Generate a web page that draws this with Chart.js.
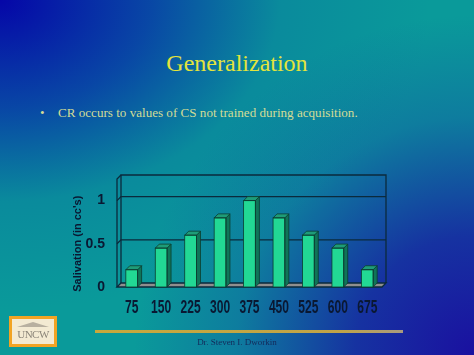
<!DOCTYPE html>
<html>
<head>
<meta charset="utf-8">
<script src="https://cdn.jsdelivr.net/npm/chart.js@4"></script>
<style>
  html, body { margin:0; padding:0; }
  body {
    width:474px; height:355px; overflow:hidden; position:relative;
    background:
      radial-gradient(ellipse 430px 310px at 0px 0px, rgba(5,6,168,1) 0%, rgba(8,50,168,0.8) 35%, rgba(10,110,160,0.35) 65%, rgba(10,150,155,0) 100%),
      radial-gradient(ellipse 340px 340px at 474px 355px, rgba(26,16,160,1) 0%, rgba(24,32,162,0.85) 35%, rgba(20,80,165,0.4) 70%, rgba(20,120,160,0) 100%),
      #0a9a9a;
  }
  #c { position:absolute; left:0; top:0; }
  .title { position:absolute; left:0; width:474px; top:51px; line-height:24px; text-align:center;
    font-family:"Liberation Serif","Times New Roman",serif; font-size:24px; color:#e4e43c; }
  .bullet { position:absolute; left:40px; top:106px; line-height:14px; font-family:"Liberation Serif",serif; font-size:13px; color:#d2dc96; }
  .btext { position:absolute; left:58px; top:106px; line-height:14px; font-family:"Liberation Serif",serif; font-size:13.1px; color:#d2dc96; white-space:nowrap; }
  .rule { position:absolute; left:95px; top:330px; width:308px; height:3px; background:linear-gradient(90deg,#c8a83c,#c0a448 80%,#a89a80); }
  .footer { position:absolute; left:0; width:474px; top:337px; text-align:center;
    font-family:"Liberation Serif",serif; font-size:9px; color:#142a5a; }
  .logo { position:absolute; left:9px; top:316px; width:42px; height:25px; border:3px solid #f2a424; background:#f3ead2; }
  .logo .roof { position:absolute; left:5px; top:3px; width:0; height:0; border-left:16px solid transparent; border-right:16px solid transparent; border-bottom:5px solid #b8b0a0; }
  .logo .txt { position:absolute; left:0; width:42px; top:9px; text-align:center; font-family:"Liberation Serif",serif; font-size:11px; color:#8a8478; letter-spacing:-0.5px; }
</style>
</head>
<body>
<div class="title">Generalization</div>
<div class="bullet">•</div>
<div class="btext">CR occurs to values of CS not trained during acquisition.</div>
<canvas id="c" width="474" height="355"></canvas>
<div class="rule"></div>
<div class="footer">Dr. Steven I. Dworkin</div>
<div class="logo"><div class="roof"></div><div class="txt">UNCW</div></div>
<script>
const categories = ['75','150','225','300','375','450','525','600','675'];
const salivation = [0.2, 0.45, 0.6, 0.8, 1.0, 0.8, 0.6, 0.45, 0.2];
const yTickValues = [0, 0.5, 1];
const yAxisTitle = "Salivation (in cc's)";

const DX = 4, DY = -4;
const lineColor = '#0b2a3c';
const labelColor = '#0a1832';

const box3d = {
  id: 'box3d',
  beforeDatasetsDraw(chart) {
    const ctx = chart.ctx, a = chart.chartArea, y = chart.scales.y;
    ctx.save();
    ctx.strokeStyle = lineColor;
    ctx.lineWidth = 1.3;
    // floor
    ctx.beginPath();
    ctx.moveTo(a.left, a.bottom);
    ctx.lineTo(a.right, a.bottom);
    ctx.lineTo(a.right + DX, a.bottom + DY);
    ctx.lineTo(a.left + DX, a.bottom + DY);
    ctx.closePath();
    ctx.fillStyle = '#8f8f8f';
    ctx.fill();
    ctx.stroke();
    // back wall outline
    ctx.beginPath();
    ctx.moveTo(a.left + DX, a.bottom + DY);
    ctx.lineTo(a.left + DX, a.top + DY);
    ctx.lineTo(a.right + DX, a.top + DY);
    ctx.lineTo(a.right + DX, a.bottom + DY);
    ctx.stroke();
    // left wall
    ctx.beginPath();
    ctx.moveTo(a.left, a.bottom);
    ctx.lineTo(a.left, a.top);
    ctx.lineTo(a.left + DX, a.top + DY);
    ctx.stroke();
    // gridlines
    yTickValues.forEach(v => {
      if (v === 0) return;
      const py = y.getPixelForValue(v);
      ctx.beginPath();
      ctx.moveTo(a.left, py);
      ctx.lineTo(a.left + DX, py + DY);
      ctx.lineTo(a.right + DX, py + DY);
      ctx.stroke();
    });
    ctx.restore();
  },
  afterDatasetsDraw(chart) {
    const ctx = chart.ctx;
    const meta = chart.getDatasetMeta(0);
    ctx.save();
    ctx.strokeStyle = '#0b3e30';
    ctx.lineWidth = 0.8;
    meta.data.forEach(bar => {
      const p = bar.getProps(['x','y','base','width'], true);
      const l = p.x - p.width/2, r = p.x + p.width/2, t = p.y, b = p.base;
      ctx.beginPath();
      ctx.moveTo(r, t); ctx.lineTo(r + DX, t + DY); ctx.lineTo(r + DX, b + DY); ctx.lineTo(r, b); ctx.closePath();
      ctx.fillStyle = '#0f7458'; ctx.fill(); ctx.stroke();
      ctx.beginPath();
      ctx.moveTo(l, t); ctx.lineTo(l + DX, t + DY); ctx.lineTo(r + DX, t + DY); ctx.lineTo(r, t); ctx.closePath();
      ctx.fillStyle = '#1e9c78'; ctx.fill(); ctx.stroke();
      ctx.strokeRect(l, t, p.width, b - t);
    });
    ctx.restore();
  },
  afterDraw(chart) {
    const ctx = chart.ctx, x = chart.scales.x, a = chart.chartArea;
    ctx.save();
    ctx.font = 'bold 18.5px "Liberation Sans", Arial, sans-serif';
    ctx.fillStyle = labelColor;
    ctx.textAlign = 'center';
    ctx.textBaseline = 'middle';
    categories.forEach((lab, i) => {
      const px = x.getPixelForTick(i);
      ctx.fillText(lab, px, a.bottom + 21, lab.length * 6.7);
    });
    ctx.restore();
  }
};

new Chart(document.getElementById('c'), {
  type: 'bar',
  data: {
    labels: categories,
    datasets: [{
      data: salivation,
      backgroundColor: '#22d894',
      borderWidth: 0,
      categoryPercentage: 1,
      barPercentage: 0.4
    }]
  },
  options: {
    responsive: false,
    animation: false,
    events: [],
    layout: { padding: { left: 66, right: 92, top: 179, bottom: 38 } },
    plugins: { legend: { display: false }, tooltip: { enabled: false } },
    scales: {
      x: {
        grid: { display: false },
        border: { display: false },
        ticks: { display: false },
        afterFit(s) { s.height = 30; }
      },
      y: {
        min: 0, max: 1.25,
        afterBuildTicks(s) { s.ticks = yTickValues.map(v => ({ value: v })); },
        grid: { display: false },
        border: { display: false },
        ticks: {
          padding: 4,
          color: labelColor,
          font: { family: '"Liberation Sans", Arial, sans-serif', weight: 'bold', size: 14 },
          callback: v => String(v)
        },
        title: {
          display: true,
          text: yAxisTitle + '\u00a0\u00a0\u00a0\u00a0\u00a0\u00a0\u00a0',
          color: labelColor,
          font: { family: '"Liberation Sans", Arial, sans-serif', weight: 'bold', size: 11 },
          padding: { top: 5, bottom: 0 }
        },
        afterFit(s) { s.width = 51; }
      }
    }
  },
  plugins: [box3d]
});
</script>
</body>
</html>
